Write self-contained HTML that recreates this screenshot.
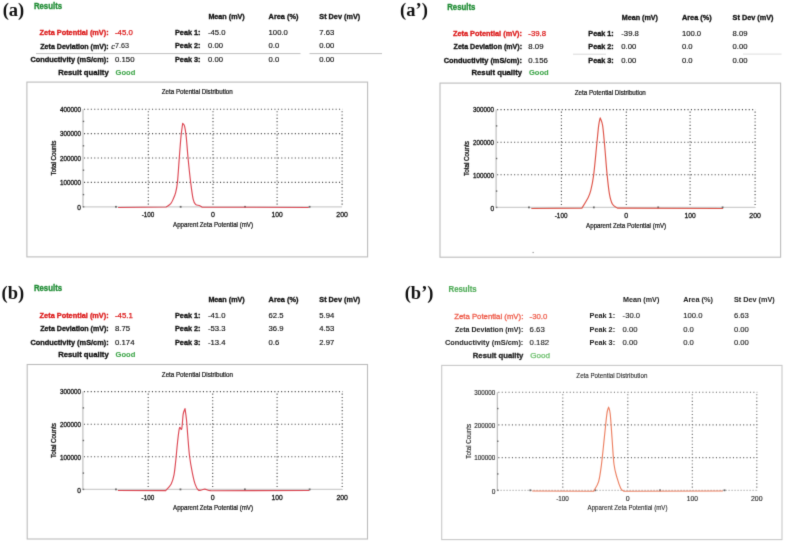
<!DOCTYPE html>
<html><head><meta charset="utf-8"><title>Zeta Potential Results</title>
<style>html,body{margin:0;padding:0;background:#fff;}body{width:785px;height:543px;overflow:hidden;}svg{display:block;}</style>
</head><body>
<svg width="785" height="543" viewBox="0 0 785 543">
<defs><filter id="soft" x="0" y="0" width="785" height="543" filterUnits="userSpaceOnUse" color-interpolation-filters="sRGB"><feConvolveMatrix order="3" kernelMatrix="1 7 1 7 49 7 1 7 1" edgeMode="duplicate"/></filter></defs>
<g filter="url(#soft)">
<rect x="0" y="0" width="785" height="543" fill="#fff"/>
<text x="2.7" y="15.9" font-size="18.5" font-weight="bold" fill="#111" text-anchor="start" font-family="'Liberation Serif', 'Times New Roman', serif">(a)</text>
<text x="33.9" y="8.8" font-size="8.6" font-weight="bold" fill="#1f8c34" text-anchor="start" font-family="'Liberation Sans', Arial, sans-serif" textLength="28.2" lengthAdjust="spacingAndGlyphs" stroke="#1f8c34" stroke-width="0.32">Results</text>
<text x="208.4" y="19.1" font-size="7.2" font-weight="bold" fill="#111" text-anchor="start" font-family="'Liberation Sans', Arial, sans-serif" textLength="36.3" lengthAdjust="spacingAndGlyphs" stroke="#111" stroke-width="0.32">Mean (mV)</text>
<text x="268.6" y="19.1" font-size="7.2" font-weight="bold" fill="#111" text-anchor="start" font-family="'Liberation Sans', Arial, sans-serif" textLength="29.8" lengthAdjust="spacingAndGlyphs" stroke="#111" stroke-width="0.32">Area (%)</text>
<text x="319.3" y="19.1" font-size="7.2" font-weight="bold" fill="#111" text-anchor="start" font-family="'Liberation Sans', Arial, sans-serif" textLength="40.9" lengthAdjust="spacingAndGlyphs" stroke="#111" stroke-width="0.32">St Dev (mV)</text>
<text x="108.7" y="35.3" font-size="7.4" font-weight="bold" fill="#dc1a1a" text-anchor="end" font-family="'Liberation Sans', Arial, sans-serif" textLength="69.1" lengthAdjust="spacingAndGlyphs" stroke="#dc1a1a" stroke-width="0.32">Zeta Potential (mV):</text>
<text x="108.7" y="48.6" font-size="7.4" font-weight="bold" fill="#111" text-anchor="end" font-family="'Liberation Sans', Arial, sans-serif" textLength="68.4" lengthAdjust="spacingAndGlyphs" stroke="#111" stroke-width="0.32">Zeta Deviation (mV):</text>
<text x="108.7" y="61.9" font-size="7.4" font-weight="bold" fill="#111" text-anchor="end" font-family="'Liberation Sans', Arial, sans-serif" textLength="78.3" lengthAdjust="spacingAndGlyphs" stroke="#111" stroke-width="0.32">Conductivity (mS/cm):</text>
<text x="108.7" y="74.5" font-size="7.8" font-weight="bold" fill="#111" text-anchor="end" font-family="'Liberation Sans', Arial, sans-serif" textLength="50.5" lengthAdjust="spacingAndGlyphs" stroke="#111" stroke-width="0.32">Result quality</text>
<text x="115" y="35.4" font-size="7.8" font-weight="normal" fill="#dc1a1a" text-anchor="start" font-family="'Liberation Sans', Arial, sans-serif" stroke="#dc1a1a" stroke-width="0.25">-45.0</text>
<text x="111.3" y="48.6" font-size="8.2" font-style="italic" fill="#2a2a2a" stroke="#2a2a2a" stroke-width="0.2" font-family="'Liberation Serif', 'Times New Roman', serif">c</text>
<text x="115" y="48.4" font-size="7.9" font-weight="normal" fill="#2a2a2a" text-anchor="start" font-family="'Liberation Sans', Arial, sans-serif" textLength="14" lengthAdjust="spacingAndGlyphs" stroke="#2a2a2a" stroke-width="0.15">7.63</text>
<text x="115" y="61.9" font-size="7.8" font-weight="normal" fill="#111" text-anchor="start" font-family="'Liberation Sans', Arial, sans-serif" stroke="#111" stroke-width="0.15">0.150</text>
<text x="115.6" y="74.6" font-size="7.9" font-weight="bold" fill="#3fa64a" text-anchor="start" font-family="'Liberation Sans', Arial, sans-serif" textLength="19.8" lengthAdjust="spacingAndGlyphs" stroke="#3fa64a" stroke-width="0.1">Good</text>
<text x="200.5" y="34.9" font-size="7.4" font-weight="bold" fill="#111" text-anchor="end" font-family="'Liberation Sans', Arial, sans-serif" textLength="25.5" lengthAdjust="spacingAndGlyphs" stroke="#111" stroke-width="0.32">Peak 1:</text>
<text x="208" y="34.9" font-size="7.7" font-weight="normal" fill="#111" text-anchor="start" font-family="'Liberation Sans', Arial, sans-serif" stroke="#111" stroke-width="0.15">-45.0</text>
<text x="268.6" y="34.9" font-size="7.7" font-weight="normal" fill="#111" text-anchor="start" font-family="'Liberation Sans', Arial, sans-serif" stroke="#111" stroke-width="0.15">100.0</text>
<text x="319.3" y="34.9" font-size="7.7" font-weight="normal" fill="#111" text-anchor="start" font-family="'Liberation Sans', Arial, sans-serif" stroke="#111" stroke-width="0.15">7.63</text>
<text x="200.5" y="48.4" font-size="7.4" font-weight="bold" fill="#111" text-anchor="end" font-family="'Liberation Sans', Arial, sans-serif" textLength="25.5" lengthAdjust="spacingAndGlyphs" stroke="#111" stroke-width="0.32">Peak 2:</text>
<text x="208" y="48.4" font-size="7.7" font-weight="normal" fill="#111" text-anchor="start" font-family="'Liberation Sans', Arial, sans-serif" stroke="#111" stroke-width="0.15">0.00</text>
<text x="268.6" y="48.4" font-size="7.7" font-weight="normal" fill="#111" text-anchor="start" font-family="'Liberation Sans', Arial, sans-serif" stroke="#111" stroke-width="0.15">0.0</text>
<text x="319.3" y="48.4" font-size="7.7" font-weight="normal" fill="#111" text-anchor="start" font-family="'Liberation Sans', Arial, sans-serif" stroke="#111" stroke-width="0.15">0.00</text>
<text x="200.5" y="62.1" font-size="7.4" font-weight="bold" fill="#111" text-anchor="end" font-family="'Liberation Sans', Arial, sans-serif" textLength="25.5" lengthAdjust="spacingAndGlyphs" stroke="#111" stroke-width="0.32">Peak 3:</text>
<text x="208" y="62.1" font-size="7.7" font-weight="normal" fill="#111" text-anchor="start" font-family="'Liberation Sans', Arial, sans-serif" stroke="#111" stroke-width="0.15">0.00</text>
<text x="268.6" y="62.1" font-size="7.7" font-weight="normal" fill="#111" text-anchor="start" font-family="'Liberation Sans', Arial, sans-serif" stroke="#111" stroke-width="0.15">0.0</text>
<text x="319.3" y="62.1" font-size="7.7" font-weight="normal" fill="#111" text-anchor="start" font-family="'Liberation Sans', Arial, sans-serif" stroke="#111" stroke-width="0.15">0.00</text>
<line x1="36" y1="53.6" x2="300.5" y2="53.6" stroke="#b8b8b8" stroke-width="0.9"/>
<line x1="309.5" y1="53.6" x2="382" y2="53.6" stroke="#b8b8b8" stroke-width="0.9"/>
<rect x="26.9" y="82.1" width="340.7" height="174.8" fill="none" stroke="#bcbcbc" stroke-width="1.1"/>
<text x="197.25" y="94.2" font-size="6.8" font-weight="normal" fill="#111" text-anchor="middle" font-family="'Liberation Sans', Arial, sans-serif" textLength="71" lengthAdjust="spacingAndGlyphs" stroke="#111" stroke-width="0.21">Zeta Potential Distribution</text>
<line x1="84" y1="182.4" x2="342.6" y2="182.4" stroke="#4a4a4a" stroke-width="1.1" stroke-dasharray="1.1 2.3"/>
<line x1="84" y1="158" x2="342.6" y2="158" stroke="#4a4a4a" stroke-width="1.1" stroke-dasharray="1.1 2.3"/>
<line x1="84" y1="133.6" x2="342.6" y2="133.6" stroke="#4a4a4a" stroke-width="1.1" stroke-dasharray="1.1 2.3"/>
<line x1="84" y1="109.2" x2="342.6" y2="109.2" stroke="#4a4a4a" stroke-width="1.1" stroke-dasharray="1.1 2.3"/>
<line x1="148.3" y1="111.2" x2="148.3" y2="206.8" stroke="#4a4a4a" stroke-width="1.1" stroke-dasharray="1.1 2.2"/>
<line x1="213" y1="111.2" x2="213" y2="206.8" stroke="#4a4a4a" stroke-width="1.1" stroke-dasharray="1.1 2.2"/>
<line x1="277.1" y1="111.2" x2="277.1" y2="206.8" stroke="#4a4a4a" stroke-width="1.1" stroke-dasharray="1.1 2.2"/>
<line x1="342.1" y1="111.2" x2="342.1" y2="206.8" stroke="#4a4a4a" stroke-width="1.1" stroke-dasharray="1.1 2.2"/>
<line x1="83" y1="109.2" x2="83" y2="207.3" stroke="#b8b8b8" stroke-width="1.1"/>
<line x1="83" y1="206.8" x2="342.1" y2="206.8" stroke="#cdcdcd" stroke-width="1.3"/>
<rect x="82.8" y="206.05" width="1.5" height="1.5" fill="#777"/>
<rect x="82.8" y="193.9" width="1.4" height="1.4" fill="#666"/>
<rect x="82.8" y="169.5" width="1.4" height="1.4" fill="#666"/>
<rect x="82.8" y="145.1" width="1.4" height="1.4" fill="#666"/>
<rect x="82.8" y="120.7" width="1.4" height="1.4" fill="#666"/>
<rect x="115.05" y="205.9" width="1.8" height="1.8" fill="#666"/>
<rect x="179.75" y="205.9" width="1.8" height="1.8" fill="#666"/>
<rect x="244.15" y="205.9" width="1.8" height="1.8" fill="#666"/>
<rect x="308.7" y="205.9" width="1.8" height="1.8" fill="#666"/>
<text x="81" y="210" font-size="6.6" font-weight="normal" fill="#111" text-anchor="end" font-family="'Liberation Sans', Arial, sans-serif" stroke="#111" stroke-width="0.29">0</text>
<text x="81" y="185.2" font-size="6.6" font-weight="normal" fill="#111" text-anchor="end" font-family="'Liberation Sans', Arial, sans-serif" textLength="21" lengthAdjust="spacingAndGlyphs" stroke="#111" stroke-width="0.29">100000</text>
<text x="81" y="160.8" font-size="6.6" font-weight="normal" fill="#111" text-anchor="end" font-family="'Liberation Sans', Arial, sans-serif" textLength="21" lengthAdjust="spacingAndGlyphs" stroke="#111" stroke-width="0.29">200000</text>
<text x="81" y="136.4" font-size="6.6" font-weight="normal" fill="#111" text-anchor="end" font-family="'Liberation Sans', Arial, sans-serif" textLength="21" lengthAdjust="spacingAndGlyphs" stroke="#111" stroke-width="0.29">300000</text>
<text x="81" y="112" font-size="6.6" font-weight="normal" fill="#111" text-anchor="end" font-family="'Liberation Sans', Arial, sans-serif" textLength="21" lengthAdjust="spacingAndGlyphs" stroke="#111" stroke-width="0.29">400000</text>
<text x="148" y="217.4" font-size="6.6" font-weight="normal" fill="#111" text-anchor="middle" font-family="'Liberation Sans', Arial, sans-serif" textLength="12.7" lengthAdjust="spacingAndGlyphs" stroke="#111" stroke-width="0.26">-100</text>
<text x="213" y="217.4" font-size="6.6" font-weight="normal" fill="#111" text-anchor="middle" font-family="'Liberation Sans', Arial, sans-serif" textLength="3.9" lengthAdjust="spacingAndGlyphs" stroke="#111" stroke-width="0.26">0</text>
<text x="277.1" y="217.4" font-size="6.6" font-weight="normal" fill="#111" text-anchor="middle" font-family="'Liberation Sans', Arial, sans-serif" textLength="11.2" lengthAdjust="spacingAndGlyphs" stroke="#111" stroke-width="0.26">100</text>
<text x="342.1" y="217.4" font-size="6.6" font-weight="normal" fill="#111" text-anchor="middle" font-family="'Liberation Sans', Arial, sans-serif" textLength="11.6" lengthAdjust="spacingAndGlyphs" stroke="#111" stroke-width="0.26">200</text>
<text x="213.05" y="227.3" font-size="6.8" font-weight="normal" fill="#111" text-anchor="middle" font-family="'Liberation Sans', Arial, sans-serif" textLength="80" lengthAdjust="spacingAndGlyphs" stroke="#111" stroke-width="0.21">Apparent Zeta Potential (mV)</text>
<text x="0" y="0" font-size="6.3" font-weight="normal" stroke="#111" stroke-width="0.29" fill="#111" text-anchor="middle" font-family="'Liberation Sans', Arial, sans-serif" textLength="35" lengthAdjust="spacingAndGlyphs" transform="translate(56.3 158) rotate(-90)">Total Counts</text>
<path d="M118.1,207.45 L166.1,207.05 C166.83,206.53 169.33,205.23 170.5,203.95 C171.67,202.67 172.23,201.28 173.1,199.35 C173.97,197.42 174.97,195.27 175.7,192.35 C176.43,189.43 176.92,187.38 177.5,181.85 C178.08,176.32 178.62,166.72 179.2,159.15 C179.78,151.58 180.42,142.42 181,136.45 C181.58,130.48 182.19,127.28 182.7,123.35 C183.24,124.13 183.92,123.77 184.5,125.95 C185.08,128.13 185.62,131.2 186.2,136.45 C186.78,141.7 187.27,149.88 188,157.45 C188.73,165.02 189.73,174.87 190.6,181.85 C191.47,188.83 192.33,195.55 193.2,199.35 C194.07,203.15 194.78,203.63 195.8,204.65 C196.82,205.67 198.27,205.05 199.3,205.45 C200.33,205.85 201.55,206.78 202,207.05 L308.8,207.45" fill="none" stroke="#dc4652" stroke-width="1.15" stroke-linejoin="round" stroke-linecap="butt"/>
<text x="400.1" y="16.1" font-size="18.5" font-weight="bold" fill="#111" text-anchor="start" font-family="'Liberation Serif', 'Times New Roman', serif">(a’)</text>
<text x="447.2" y="9.6" font-size="8.6" font-weight="bold" fill="#1f8c34" text-anchor="start" font-family="'Liberation Sans', Arial, sans-serif" textLength="28.2" lengthAdjust="spacingAndGlyphs" stroke="#1f8c34" stroke-width="0.32">Results</text>
<text x="621.7" y="19.9" font-size="7.2" font-weight="bold" fill="#111" text-anchor="start" font-family="'Liberation Sans', Arial, sans-serif" textLength="36.3" lengthAdjust="spacingAndGlyphs" stroke="#111" stroke-width="0.32">Mean (mV)</text>
<text x="681.9" y="19.9" font-size="7.2" font-weight="bold" fill="#111" text-anchor="start" font-family="'Liberation Sans', Arial, sans-serif" textLength="29.8" lengthAdjust="spacingAndGlyphs" stroke="#111" stroke-width="0.32">Area (%)</text>
<text x="732.6" y="19.9" font-size="7.2" font-weight="bold" fill="#111" text-anchor="start" font-family="'Liberation Sans', Arial, sans-serif" textLength="40.9" lengthAdjust="spacingAndGlyphs" stroke="#111" stroke-width="0.32">St Dev (mV)</text>
<text x="522" y="36.1" font-size="7.4" font-weight="bold" fill="#dc1a1a" text-anchor="end" font-family="'Liberation Sans', Arial, sans-serif" textLength="69.1" lengthAdjust="spacingAndGlyphs" stroke="#dc1a1a" stroke-width="0.32">Zeta Potential (mV):</text>
<text x="522" y="49.4" font-size="7.4" font-weight="bold" fill="#111" text-anchor="end" font-family="'Liberation Sans', Arial, sans-serif" textLength="68.4" lengthAdjust="spacingAndGlyphs" stroke="#111" stroke-width="0.32">Zeta Deviation (mV):</text>
<text x="522" y="62.7" font-size="7.4" font-weight="bold" fill="#111" text-anchor="end" font-family="'Liberation Sans', Arial, sans-serif" textLength="78.3" lengthAdjust="spacingAndGlyphs" stroke="#111" stroke-width="0.32">Conductivity (mS/cm):</text>
<text x="522" y="75.3" font-size="7.8" font-weight="bold" fill="#111" text-anchor="end" font-family="'Liberation Sans', Arial, sans-serif" textLength="50.5" lengthAdjust="spacingAndGlyphs" stroke="#111" stroke-width="0.32">Result quality</text>
<text x="528.3" y="36.2" font-size="7.8" font-weight="normal" fill="#dc1a1a" text-anchor="start" font-family="'Liberation Sans', Arial, sans-serif" stroke="#dc1a1a" stroke-width="0.25">-39.8</text>
<text x="528.3" y="49.4" font-size="7.8" font-weight="normal" fill="#111" text-anchor="start" font-family="'Liberation Sans', Arial, sans-serif" stroke="#111" stroke-width="0.15">8.09</text>
<text x="528.3" y="62.7" font-size="7.8" font-weight="normal" fill="#111" text-anchor="start" font-family="'Liberation Sans', Arial, sans-serif" stroke="#111" stroke-width="0.15">0.156</text>
<text x="528.9" y="75.4" font-size="7.9" font-weight="bold" fill="#3fa64a" text-anchor="start" font-family="'Liberation Sans', Arial, sans-serif" textLength="19.8" lengthAdjust="spacingAndGlyphs" stroke="#3fa64a" stroke-width="0.1">Good</text>
<text x="613.8" y="35.7" font-size="7.4" font-weight="bold" fill="#111" text-anchor="end" font-family="'Liberation Sans', Arial, sans-serif" textLength="25.5" lengthAdjust="spacingAndGlyphs" stroke="#111" stroke-width="0.32">Peak 1:</text>
<text x="621.3" y="35.7" font-size="7.7" font-weight="normal" fill="#111" text-anchor="start" font-family="'Liberation Sans', Arial, sans-serif" stroke="#111" stroke-width="0.15">-39.8</text>
<text x="681.9" y="35.7" font-size="7.7" font-weight="normal" fill="#111" text-anchor="start" font-family="'Liberation Sans', Arial, sans-serif" stroke="#111" stroke-width="0.15">100.0</text>
<text x="732.6" y="35.7" font-size="7.7" font-weight="normal" fill="#111" text-anchor="start" font-family="'Liberation Sans', Arial, sans-serif" stroke="#111" stroke-width="0.15">8.09</text>
<text x="613.8" y="49.2" font-size="7.4" font-weight="bold" fill="#111" text-anchor="end" font-family="'Liberation Sans', Arial, sans-serif" textLength="25.5" lengthAdjust="spacingAndGlyphs" stroke="#111" stroke-width="0.32">Peak 2:</text>
<text x="621.3" y="49.2" font-size="7.7" font-weight="normal" fill="#111" text-anchor="start" font-family="'Liberation Sans', Arial, sans-serif" stroke="#111" stroke-width="0.15">0.00</text>
<text x="681.9" y="49.2" font-size="7.7" font-weight="normal" fill="#111" text-anchor="start" font-family="'Liberation Sans', Arial, sans-serif" stroke="#111" stroke-width="0.15">0.0</text>
<text x="732.6" y="49.2" font-size="7.7" font-weight="normal" fill="#111" text-anchor="start" font-family="'Liberation Sans', Arial, sans-serif" stroke="#111" stroke-width="0.15">0.00</text>
<text x="613.8" y="62.9" font-size="7.4" font-weight="bold" fill="#111" text-anchor="end" font-family="'Liberation Sans', Arial, sans-serif" textLength="25.5" lengthAdjust="spacingAndGlyphs" stroke="#111" stroke-width="0.32">Peak 3:</text>
<text x="621.3" y="62.9" font-size="7.7" font-weight="normal" fill="#111" text-anchor="start" font-family="'Liberation Sans', Arial, sans-serif" stroke="#111" stroke-width="0.15">0.00</text>
<text x="681.9" y="62.9" font-size="7.7" font-weight="normal" fill="#111" text-anchor="start" font-family="'Liberation Sans', Arial, sans-serif" stroke="#111" stroke-width="0.15">0.0</text>
<text x="732.6" y="62.9" font-size="7.7" font-weight="normal" fill="#111" text-anchor="start" font-family="'Liberation Sans', Arial, sans-serif" stroke="#111" stroke-width="0.15">0.00</text>
<line x1="573" y1="54.2" x2="606" y2="54.2" stroke="#d0d0d0" stroke-width="0.8"/>
<line x1="743" y1="54.1" x2="781.5" y2="54.1" stroke="#d4d4d4" stroke-width="0.8"/>
<rect x="440" y="83.1" width="340.6" height="174.1" fill="none" stroke="#bcbcbc" stroke-width="1.1"/>
<text x="610.3" y="95.2" font-size="6.8" font-weight="normal" fill="#111" text-anchor="middle" font-family="'Liberation Sans', Arial, sans-serif" textLength="71" lengthAdjust="spacingAndGlyphs" stroke="#111" stroke-width="0.21">Zeta Potential Distribution</text>
<line x1="497.1" y1="174.8" x2="755.6" y2="174.8" stroke="#4a4a4a" stroke-width="1.1" stroke-dasharray="1.1 2.3"/>
<line x1="497.1" y1="142.2" x2="755.6" y2="142.2" stroke="#4a4a4a" stroke-width="1.1" stroke-dasharray="1.1 2.3"/>
<line x1="497.1" y1="109.6" x2="755.6" y2="109.6" stroke="#4a4a4a" stroke-width="1.1" stroke-dasharray="1.1 2.3"/>
<line x1="561.4" y1="111.6" x2="561.4" y2="207.4" stroke="#4a4a4a" stroke-width="1.1" stroke-dasharray="1.1 2.2"/>
<line x1="626.3" y1="111.6" x2="626.3" y2="207.4" stroke="#4a4a4a" stroke-width="1.1" stroke-dasharray="1.1 2.2"/>
<line x1="690.1" y1="111.6" x2="690.1" y2="207.4" stroke="#4a4a4a" stroke-width="1.1" stroke-dasharray="1.1 2.2"/>
<line x1="755.1" y1="111.6" x2="755.1" y2="207.4" stroke="#4a4a4a" stroke-width="1.1" stroke-dasharray="1.1 2.2"/>
<line x1="496.1" y1="109.6" x2="496.1" y2="207.9" stroke="#b8b8b8" stroke-width="1.1"/>
<line x1="496.1" y1="207.4" x2="755.1" y2="207.4" stroke="#cdcdcd" stroke-width="1.3"/>
<rect x="495.9" y="206.65" width="1.5" height="1.5" fill="#777"/>
<rect x="495.9" y="190.4" width="1.4" height="1.4" fill="#666"/>
<rect x="495.9" y="157.8" width="1.4" height="1.4" fill="#666"/>
<rect x="495.9" y="125.2" width="1.4" height="1.4" fill="#666"/>
<rect x="528.05" y="206.5" width="1.8" height="1.8" fill="#666"/>
<rect x="592.95" y="206.5" width="1.8" height="1.8" fill="#666"/>
<rect x="657.3" y="206.5" width="1.8" height="1.8" fill="#666"/>
<rect x="721.7" y="206.5" width="1.8" height="1.8" fill="#666"/>
<text x="494.1" y="210.6" font-size="6.6" font-weight="normal" fill="#111" text-anchor="end" font-family="'Liberation Sans', Arial, sans-serif" stroke="#111" stroke-width="0.29">0</text>
<text x="494.1" y="177.6" font-size="6.6" font-weight="normal" fill="#111" text-anchor="end" font-family="'Liberation Sans', Arial, sans-serif" textLength="21" lengthAdjust="spacingAndGlyphs" stroke="#111" stroke-width="0.29">100000</text>
<text x="494.1" y="145" font-size="6.6" font-weight="normal" fill="#111" text-anchor="end" font-family="'Liberation Sans', Arial, sans-serif" textLength="21" lengthAdjust="spacingAndGlyphs" stroke="#111" stroke-width="0.29">200000</text>
<text x="494.1" y="112.4" font-size="6.6" font-weight="normal" fill="#111" text-anchor="end" font-family="'Liberation Sans', Arial, sans-serif" textLength="21" lengthAdjust="spacingAndGlyphs" stroke="#111" stroke-width="0.29">300000</text>
<text x="561.1" y="218" font-size="6.6" font-weight="normal" fill="#111" text-anchor="middle" font-family="'Liberation Sans', Arial, sans-serif" textLength="12.7" lengthAdjust="spacingAndGlyphs" stroke="#111" stroke-width="0.26">-100</text>
<text x="626.3" y="218" font-size="6.6" font-weight="normal" fill="#111" text-anchor="middle" font-family="'Liberation Sans', Arial, sans-serif" textLength="3.9" lengthAdjust="spacingAndGlyphs" stroke="#111" stroke-width="0.26">0</text>
<text x="690.1" y="218" font-size="6.6" font-weight="normal" fill="#111" text-anchor="middle" font-family="'Liberation Sans', Arial, sans-serif" textLength="11.2" lengthAdjust="spacingAndGlyphs" stroke="#111" stroke-width="0.26">100</text>
<text x="755.1" y="218" font-size="6.6" font-weight="normal" fill="#111" text-anchor="middle" font-family="'Liberation Sans', Arial, sans-serif" textLength="11.6" lengthAdjust="spacingAndGlyphs" stroke="#111" stroke-width="0.26">200</text>
<text x="626.1" y="227.9" font-size="6.8" font-weight="normal" fill="#111" text-anchor="middle" font-family="'Liberation Sans', Arial, sans-serif" textLength="80" lengthAdjust="spacingAndGlyphs" stroke="#111" stroke-width="0.21">Apparent Zeta Potential (mV)</text>
<text x="0" y="0" font-size="6.3" font-weight="normal" stroke="#111" stroke-width="0.29" fill="#111" text-anchor="middle" font-family="'Liberation Sans', Arial, sans-serif" textLength="35" lengthAdjust="spacingAndGlyphs" transform="translate(469.4 158.5) rotate(-90)">Total Counts</text>
<path d="M531.3,208.45 L581.9,208.15 C582.88,206.5 586.32,201.2 587.8,198.25 C589.28,195.3 589.82,194.38 590.8,190.45 C591.78,186.52 592.72,182.22 593.7,174.65 C594.68,167.08 595.87,153.27 596.7,145.05 C597.53,136.83 598.12,129.88 598.7,125.35 C599.28,120.82 599.75,120.1 600.2,117.85 C600.92,120.1 601.87,120.82 602.6,125.35 C603.33,129.88 603.85,136.83 604.6,145.05 C605.35,153.27 606.28,166.43 607.1,174.65 C607.92,182.87 608.6,189.42 609.5,194.35 C610.4,199.28 611.18,201.95 612.5,204.25 C613.82,206.55 616.58,207.5 617.4,208.15 L723,208.45" fill="none" stroke="#de5448" stroke-width="1.15" stroke-linejoin="round" stroke-linecap="butt"/>
<rect x="532.5" y="251.9" width="1.3" height="1.2" fill="#999"/>
<text x="1.5" y="298.5" font-size="18.5" font-weight="bold" fill="#111" text-anchor="start" font-family="'Liberation Serif', 'Times New Roman', serif">(b)</text>
<text x="33.9" y="291.4" font-size="8.6" font-weight="bold" fill="#1f8c34" text-anchor="start" font-family="'Liberation Sans', Arial, sans-serif" textLength="28.2" lengthAdjust="spacingAndGlyphs" stroke="#1f8c34" stroke-width="0.32">Results</text>
<text x="208.4" y="301.7" font-size="7.2" font-weight="bold" fill="#111" text-anchor="start" font-family="'Liberation Sans', Arial, sans-serif" textLength="36.3" lengthAdjust="spacingAndGlyphs" stroke="#111" stroke-width="0.32">Mean (mV)</text>
<text x="268.6" y="301.7" font-size="7.2" font-weight="bold" fill="#111" text-anchor="start" font-family="'Liberation Sans', Arial, sans-serif" textLength="29.8" lengthAdjust="spacingAndGlyphs" stroke="#111" stroke-width="0.32">Area (%)</text>
<text x="319.3" y="301.7" font-size="7.2" font-weight="bold" fill="#111" text-anchor="start" font-family="'Liberation Sans', Arial, sans-serif" textLength="40.9" lengthAdjust="spacingAndGlyphs" stroke="#111" stroke-width="0.32">St Dev (mV)</text>
<text x="108.7" y="317.9" font-size="7.4" font-weight="bold" fill="#dc1a1a" text-anchor="end" font-family="'Liberation Sans', Arial, sans-serif" textLength="69.1" lengthAdjust="spacingAndGlyphs" stroke="#dc1a1a" stroke-width="0.32">Zeta Potential (mV):</text>
<text x="108.7" y="331.2" font-size="7.4" font-weight="bold" fill="#111" text-anchor="end" font-family="'Liberation Sans', Arial, sans-serif" textLength="68.4" lengthAdjust="spacingAndGlyphs" stroke="#111" stroke-width="0.32">Zeta Deviation (mV):</text>
<text x="108.7" y="344.5" font-size="7.4" font-weight="bold" fill="#111" text-anchor="end" font-family="'Liberation Sans', Arial, sans-serif" textLength="78.3" lengthAdjust="spacingAndGlyphs" stroke="#111" stroke-width="0.32">Conductivity (mS/cm):</text>
<text x="108.7" y="357.1" font-size="7.8" font-weight="bold" fill="#111" text-anchor="end" font-family="'Liberation Sans', Arial, sans-serif" textLength="50.5" lengthAdjust="spacingAndGlyphs" stroke="#111" stroke-width="0.32">Result quality</text>
<text x="115" y="318" font-size="7.8" font-weight="normal" fill="#dc1a1a" text-anchor="start" font-family="'Liberation Sans', Arial, sans-serif" stroke="#dc1a1a" stroke-width="0.25">-45.1</text>
<text x="115" y="331.2" font-size="7.8" font-weight="normal" fill="#111" text-anchor="start" font-family="'Liberation Sans', Arial, sans-serif" stroke="#111" stroke-width="0.15">8.75</text>
<text x="115" y="344.5" font-size="7.8" font-weight="normal" fill="#111" text-anchor="start" font-family="'Liberation Sans', Arial, sans-serif" stroke="#111" stroke-width="0.15">0.174</text>
<text x="115.6" y="357.2" font-size="7.9" font-weight="bold" fill="#3fa64a" text-anchor="start" font-family="'Liberation Sans', Arial, sans-serif" textLength="19.8" lengthAdjust="spacingAndGlyphs" stroke="#3fa64a" stroke-width="0.1">Good</text>
<text x="200.5" y="317.5" font-size="7.4" font-weight="bold" fill="#111" text-anchor="end" font-family="'Liberation Sans', Arial, sans-serif" textLength="25.5" lengthAdjust="spacingAndGlyphs" stroke="#111" stroke-width="0.32">Peak 1:</text>
<text x="208" y="317.5" font-size="7.7" font-weight="normal" fill="#111" text-anchor="start" font-family="'Liberation Sans', Arial, sans-serif" stroke="#111" stroke-width="0.15">-41.0</text>
<text x="268.6" y="317.5" font-size="7.7" font-weight="normal" fill="#111" text-anchor="start" font-family="'Liberation Sans', Arial, sans-serif" stroke="#111" stroke-width="0.15">62.5</text>
<text x="319.3" y="317.5" font-size="7.7" font-weight="normal" fill="#111" text-anchor="start" font-family="'Liberation Sans', Arial, sans-serif" stroke="#111" stroke-width="0.15">5.94</text>
<text x="200.5" y="331" font-size="7.4" font-weight="bold" fill="#111" text-anchor="end" font-family="'Liberation Sans', Arial, sans-serif" textLength="25.5" lengthAdjust="spacingAndGlyphs" stroke="#111" stroke-width="0.32">Peak 2:</text>
<text x="208" y="331" font-size="7.7" font-weight="normal" fill="#111" text-anchor="start" font-family="'Liberation Sans', Arial, sans-serif" stroke="#111" stroke-width="0.15">-53.3</text>
<text x="268.6" y="331" font-size="7.7" font-weight="normal" fill="#111" text-anchor="start" font-family="'Liberation Sans', Arial, sans-serif" stroke="#111" stroke-width="0.15">36.9</text>
<text x="319.3" y="331" font-size="7.7" font-weight="normal" fill="#111" text-anchor="start" font-family="'Liberation Sans', Arial, sans-serif" stroke="#111" stroke-width="0.15">4.53</text>
<text x="200.5" y="344.7" font-size="7.4" font-weight="bold" fill="#111" text-anchor="end" font-family="'Liberation Sans', Arial, sans-serif" textLength="25.5" lengthAdjust="spacingAndGlyphs" stroke="#111" stroke-width="0.32">Peak 3:</text>
<text x="208" y="344.7" font-size="7.7" font-weight="normal" fill="#111" text-anchor="start" font-family="'Liberation Sans', Arial, sans-serif" stroke="#111" stroke-width="0.15">-13.4</text>
<text x="268.6" y="344.7" font-size="7.7" font-weight="normal" fill="#111" text-anchor="start" font-family="'Liberation Sans', Arial, sans-serif" stroke="#111" stroke-width="0.15">0.6</text>
<text x="319.3" y="344.7" font-size="7.7" font-weight="normal" fill="#111" text-anchor="start" font-family="'Liberation Sans', Arial, sans-serif" stroke="#111" stroke-width="0.15">2.97</text>
<rect x="27.2" y="364.5" width="340.3" height="174.5" fill="none" stroke="#bcbcbc" stroke-width="1.1"/>
<text x="197.35" y="376.6" font-size="6.8" font-weight="normal" fill="#111" text-anchor="middle" font-family="'Liberation Sans', Arial, sans-serif" textLength="71" lengthAdjust="spacingAndGlyphs" stroke="#111" stroke-width="0.21">Zeta Potential Distribution</text>
<line x1="83.9" y1="456.8" x2="342.7" y2="456.8" stroke="#4a4a4a" stroke-width="1.1" stroke-dasharray="1.1 2.3"/>
<line x1="83.9" y1="424.2" x2="342.7" y2="424.2" stroke="#4a4a4a" stroke-width="1.1" stroke-dasharray="1.1 2.3"/>
<line x1="83.9" y1="391.6" x2="342.7" y2="391.6" stroke="#4a4a4a" stroke-width="1.1" stroke-dasharray="1.1 2.3"/>
<line x1="148.2" y1="393.6" x2="148.2" y2="489.4" stroke="#4a4a4a" stroke-width="1.1" stroke-dasharray="1.1 2.2"/>
<line x1="212.7" y1="393.6" x2="212.7" y2="489.4" stroke="#4a4a4a" stroke-width="1.1" stroke-dasharray="1.1 2.2"/>
<line x1="277.1" y1="393.6" x2="277.1" y2="489.4" stroke="#4a4a4a" stroke-width="1.1" stroke-dasharray="1.1 2.2"/>
<line x1="342.2" y1="393.6" x2="342.2" y2="489.4" stroke="#4a4a4a" stroke-width="1.1" stroke-dasharray="1.1 2.2"/>
<line x1="82.9" y1="391.6" x2="82.9" y2="489.9" stroke="#b8b8b8" stroke-width="1.1"/>
<line x1="82.9" y1="489.4" x2="342.2" y2="489.4" stroke="#cdcdcd" stroke-width="1.3"/>
<rect x="82.7" y="488.65" width="1.5" height="1.5" fill="#777"/>
<rect x="82.7" y="472.4" width="1.4" height="1.4" fill="#666"/>
<rect x="82.7" y="439.8" width="1.4" height="1.4" fill="#666"/>
<rect x="82.7" y="407.2" width="1.4" height="1.4" fill="#666"/>
<rect x="115.05" y="488.5" width="1.8" height="1.8" fill="#666"/>
<rect x="179.55" y="488.5" width="1.8" height="1.8" fill="#666"/>
<rect x="244" y="488.5" width="1.8" height="1.8" fill="#666"/>
<rect x="308.75" y="488.5" width="1.8" height="1.8" fill="#666"/>
<text x="80.9" y="492.6" font-size="6.6" font-weight="normal" fill="#111" text-anchor="end" font-family="'Liberation Sans', Arial, sans-serif" stroke="#111" stroke-width="0.29">0</text>
<text x="80.9" y="459.6" font-size="6.6" font-weight="normal" fill="#111" text-anchor="end" font-family="'Liberation Sans', Arial, sans-serif" textLength="21" lengthAdjust="spacingAndGlyphs" stroke="#111" stroke-width="0.29">100000</text>
<text x="80.9" y="427" font-size="6.6" font-weight="normal" fill="#111" text-anchor="end" font-family="'Liberation Sans', Arial, sans-serif" textLength="21" lengthAdjust="spacingAndGlyphs" stroke="#111" stroke-width="0.29">200000</text>
<text x="80.9" y="394.4" font-size="6.6" font-weight="normal" fill="#111" text-anchor="end" font-family="'Liberation Sans', Arial, sans-serif" textLength="21" lengthAdjust="spacingAndGlyphs" stroke="#111" stroke-width="0.29">300000</text>
<text x="147.9" y="500" font-size="6.6" font-weight="normal" fill="#111" text-anchor="middle" font-family="'Liberation Sans', Arial, sans-serif" textLength="12.7" lengthAdjust="spacingAndGlyphs" stroke="#111" stroke-width="0.26">-100</text>
<text x="212.7" y="500" font-size="6.6" font-weight="normal" fill="#111" text-anchor="middle" font-family="'Liberation Sans', Arial, sans-serif" textLength="3.9" lengthAdjust="spacingAndGlyphs" stroke="#111" stroke-width="0.26">0</text>
<text x="277.1" y="500" font-size="6.6" font-weight="normal" fill="#111" text-anchor="middle" font-family="'Liberation Sans', Arial, sans-serif" textLength="11.2" lengthAdjust="spacingAndGlyphs" stroke="#111" stroke-width="0.26">100</text>
<text x="342.2" y="500" font-size="6.6" font-weight="normal" fill="#111" text-anchor="middle" font-family="'Liberation Sans', Arial, sans-serif" textLength="11.6" lengthAdjust="spacingAndGlyphs" stroke="#111" stroke-width="0.26">200</text>
<text x="213.05" y="509.9" font-size="6.8" font-weight="normal" fill="#111" text-anchor="middle" font-family="'Liberation Sans', Arial, sans-serif" textLength="80" lengthAdjust="spacingAndGlyphs" stroke="#111" stroke-width="0.21">Apparent Zeta Potential (mV)</text>
<text x="0" y="0" font-size="6.3" font-weight="normal" stroke="#111" stroke-width="0.29" fill="#111" text-anchor="middle" font-family="'Liberation Sans', Arial, sans-serif" textLength="35" lengthAdjust="spacingAndGlyphs" transform="translate(56.2 440.5) rotate(-90)">Total Counts</text>
<path d="M117.8,490.5 L165.7,490.6 C166.62,489.52 169.82,486.72 171.2,484.1 C172.58,481.48 173.23,478.88 174,474.9 C174.77,470.92 175.2,465.72 175.8,460.2 C176.4,454.68 176.98,447.18 177.6,441.8 C178.22,436.42 178.82,430.05 179.5,427.9 C180.18,425.75 181.08,431.2 181.7,428.9 C182.32,426.6 182.65,417.48 183.2,414.1 C183.75,410.72 184.46,410.25 185,408.6 C185.45,411.93 186.03,415.1 186.5,419.7 C186.97,424.3 187.28,430.07 187.8,436.2 C188.32,442.33 188.83,450.35 189.6,456.5 C190.37,462.65 191.48,468.5 192.4,473.1 C193.32,477.7 194.12,481.28 195.1,484.1 C196.08,486.92 197.22,489.02 198.3,490 C199.38,490.98 200.5,490.15 201.6,490 C202.7,489.85 203.83,489.07 204.9,489.1 C205.97,489.13 207.02,489.93 208,490.2 C208.98,490.47 210.33,490.62 210.8,490.7 L309.4,490.5" fill="none" stroke="#dc4652" stroke-width="1.15" stroke-linejoin="round" stroke-linecap="butt"/>
<text x="404.7" y="299.1" font-size="18.5" font-weight="bold" fill="#111" text-anchor="start" font-family="'Liberation Serif', 'Times New Roman', serif">(b’)</text>
<text x="448.5" y="292" font-size="8.6" font-weight="bold" fill="#52ad5a" text-anchor="start" font-family="'Liberation Sans', Arial, sans-serif" textLength="28.2" lengthAdjust="spacingAndGlyphs" stroke="#52ad5a" stroke-width="0.18">Results</text>
<text x="623" y="302.3" font-size="7.2" font-weight="bold" fill="#262626" text-anchor="start" font-family="'Liberation Sans', Arial, sans-serif" textLength="36.3" lengthAdjust="spacingAndGlyphs" stroke="#262626" stroke-width="0.05">Mean (mV)</text>
<text x="683.2" y="302.3" font-size="7.2" font-weight="bold" fill="#262626" text-anchor="start" font-family="'Liberation Sans', Arial, sans-serif" textLength="29.8" lengthAdjust="spacingAndGlyphs" stroke="#262626" stroke-width="0.05">Area (%)</text>
<text x="733.9" y="302.3" font-size="7.2" font-weight="bold" fill="#262626" text-anchor="start" font-family="'Liberation Sans', Arial, sans-serif" textLength="40.9" lengthAdjust="spacingAndGlyphs" stroke="#262626" stroke-width="0.05">St Dev (mV)</text>
<text x="523.3" y="318.5" font-size="7.4" font-weight="normal" fill="#ee5a48" text-anchor="end" font-family="'Liberation Sans', Arial, sans-serif" textLength="69.1" lengthAdjust="spacingAndGlyphs" stroke="#ee5a48" stroke-width="0.28">Zeta Potential (mV):</text>
<text x="523.3" y="331.8" font-size="7.4" font-weight="bold" fill="#262626" text-anchor="end" font-family="'Liberation Sans', Arial, sans-serif" textLength="68.4" lengthAdjust="spacingAndGlyphs" stroke="#262626" stroke-width="0.05">Zeta Deviation (mV):</text>
<text x="523.3" y="345.1" font-size="7.4" font-weight="bold" fill="#262626" text-anchor="end" font-family="'Liberation Sans', Arial, sans-serif" textLength="78.3" lengthAdjust="spacingAndGlyphs" stroke="#262626" stroke-width="0.05">Conductivity (mS/cm):</text>
<text x="523.3" y="357.7" font-size="7.8" font-weight="bold" fill="#262626" text-anchor="end" font-family="'Liberation Sans', Arial, sans-serif" textLength="50.5" lengthAdjust="spacingAndGlyphs" stroke="#262626" stroke-width="0.32">Result quality</text>
<text x="529.6" y="318.6" font-size="7.8" font-weight="normal" fill="#ee5a48" text-anchor="start" font-family="'Liberation Sans', Arial, sans-serif" stroke="#ee5a48" stroke-width="0.25">-30.0</text>
<text x="529.6" y="331.8" font-size="7.8" font-weight="normal" fill="#262626" text-anchor="start" font-family="'Liberation Sans', Arial, sans-serif" stroke="#262626" stroke-width="0.15">6.63</text>
<text x="529.6" y="345.1" font-size="7.8" font-weight="normal" fill="#262626" text-anchor="start" font-family="'Liberation Sans', Arial, sans-serif" stroke="#262626" stroke-width="0.15">0.182</text>
<text x="530.2" y="357.8" font-size="7.9" font-weight="normal" fill="#6cbf6c" text-anchor="start" font-family="'Liberation Sans', Arial, sans-serif" textLength="19.8" lengthAdjust="spacingAndGlyphs" stroke="#6cbf6c" stroke-width="0.25">Good</text>
<text x="615.1" y="318.1" font-size="7.4" font-weight="bold" fill="#262626" text-anchor="end" font-family="'Liberation Sans', Arial, sans-serif" textLength="25.5" lengthAdjust="spacingAndGlyphs" stroke="#262626" stroke-width="0.05">Peak 1:</text>
<text x="622.6" y="318.1" font-size="7.7" font-weight="normal" fill="#262626" text-anchor="start" font-family="'Liberation Sans', Arial, sans-serif" stroke="#262626" stroke-width="0.15">-30.0</text>
<text x="683.2" y="318.1" font-size="7.7" font-weight="normal" fill="#262626" text-anchor="start" font-family="'Liberation Sans', Arial, sans-serif" stroke="#262626" stroke-width="0.15">100.0</text>
<text x="733.9" y="318.1" font-size="7.7" font-weight="normal" fill="#262626" text-anchor="start" font-family="'Liberation Sans', Arial, sans-serif" stroke="#262626" stroke-width="0.15">6.63</text>
<text x="615.1" y="331.6" font-size="7.4" font-weight="bold" fill="#262626" text-anchor="end" font-family="'Liberation Sans', Arial, sans-serif" textLength="25.5" lengthAdjust="spacingAndGlyphs" stroke="#262626" stroke-width="0.05">Peak 2:</text>
<text x="622.6" y="331.6" font-size="7.7" font-weight="normal" fill="#262626" text-anchor="start" font-family="'Liberation Sans', Arial, sans-serif" stroke="#262626" stroke-width="0.15">0.00</text>
<text x="683.2" y="331.6" font-size="7.7" font-weight="normal" fill="#262626" text-anchor="start" font-family="'Liberation Sans', Arial, sans-serif" stroke="#262626" stroke-width="0.15">0.0</text>
<text x="733.9" y="331.6" font-size="7.7" font-weight="normal" fill="#262626" text-anchor="start" font-family="'Liberation Sans', Arial, sans-serif" stroke="#262626" stroke-width="0.15">0.00</text>
<text x="615.1" y="345.3" font-size="7.4" font-weight="bold" fill="#262626" text-anchor="end" font-family="'Liberation Sans', Arial, sans-serif" textLength="25.5" lengthAdjust="spacingAndGlyphs" stroke="#262626" stroke-width="0.05">Peak 3:</text>
<text x="622.6" y="345.3" font-size="7.7" font-weight="normal" fill="#262626" text-anchor="start" font-family="'Liberation Sans', Arial, sans-serif" stroke="#262626" stroke-width="0.15">0.00</text>
<text x="683.2" y="345.3" font-size="7.7" font-weight="normal" fill="#262626" text-anchor="start" font-family="'Liberation Sans', Arial, sans-serif" stroke="#262626" stroke-width="0.15">0.0</text>
<text x="733.9" y="345.3" font-size="7.7" font-weight="normal" fill="#262626" text-anchor="start" font-family="'Liberation Sans', Arial, sans-serif" stroke="#262626" stroke-width="0.15">0.00</text>
<rect x="441.7" y="365.4" width="340.3" height="174.2" fill="none" stroke="#c8c8c8" stroke-width="1.1"/>
<text x="611.85" y="377.5" font-size="6.8" font-weight="normal" fill="#262626" text-anchor="middle" font-family="'Liberation Sans', Arial, sans-serif" textLength="71" lengthAdjust="spacingAndGlyphs" stroke="#262626" stroke-width="0.1">Zeta Potential Distribution</text>
<line x1="498.3" y1="457.6" x2="757.3" y2="457.6" stroke="#6a6a6a" stroke-width="1.1" stroke-dasharray="1.1 2.3"/>
<line x1="498.3" y1="424.9" x2="757.3" y2="424.9" stroke="#6a6a6a" stroke-width="1.1" stroke-dasharray="1.1 2.3"/>
<line x1="498.3" y1="392.2" x2="757.3" y2="392.2" stroke="#6a6a6a" stroke-width="1.1" stroke-dasharray="1.1 2.3"/>
<line x1="562.8" y1="394.2" x2="562.8" y2="490.3" stroke="#6a6a6a" stroke-width="1.1" stroke-dasharray="1.1 2.2"/>
<line x1="627.8" y1="394.2" x2="627.8" y2="490.3" stroke="#6a6a6a" stroke-width="1.1" stroke-dasharray="1.1 2.2"/>
<line x1="692.3" y1="394.2" x2="692.3" y2="490.3" stroke="#6a6a6a" stroke-width="1.1" stroke-dasharray="1.1 2.2"/>
<line x1="756.8" y1="394.2" x2="756.8" y2="490.3" stroke="#6a6a6a" stroke-width="1.1" stroke-dasharray="1.1 2.2"/>
<line x1="497.3" y1="392.2" x2="497.3" y2="490.8" stroke="#b8b8b8" stroke-width="1.1"/>
<line x1="497.3" y1="490.3" x2="756.8" y2="490.3" stroke="#b4b4b4" stroke-width="1.0" stroke-dasharray="1.6 1.4"/>
<rect x="497.1" y="489.55" width="1.5" height="1.5" fill="#777"/>
<rect x="497.1" y="473.25" width="1.4" height="1.4" fill="#666"/>
<rect x="497.1" y="440.55" width="1.4" height="1.4" fill="#666"/>
<rect x="497.1" y="407.85" width="1.4" height="1.4" fill="#666"/>
<rect x="529.4" y="489.4" width="1.8" height="1.8" fill="#666"/>
<rect x="594.4" y="489.4" width="1.8" height="1.8" fill="#666"/>
<rect x="659.15" y="489.4" width="1.8" height="1.8" fill="#666"/>
<rect x="723.65" y="489.4" width="1.8" height="1.8" fill="#666"/>
<text x="495.3" y="493.5" font-size="6.6" font-weight="normal" fill="#262626" text-anchor="end" font-family="'Liberation Sans', Arial, sans-serif" stroke="#262626" stroke-width="0.13">0</text>
<text x="495.3" y="460.4" font-size="6.6" font-weight="normal" fill="#262626" text-anchor="end" font-family="'Liberation Sans', Arial, sans-serif" textLength="21" lengthAdjust="spacingAndGlyphs" stroke="#262626" stroke-width="0.13">100000</text>
<text x="495.3" y="427.7" font-size="6.6" font-weight="normal" fill="#262626" text-anchor="end" font-family="'Liberation Sans', Arial, sans-serif" textLength="21" lengthAdjust="spacingAndGlyphs" stroke="#262626" stroke-width="0.13">200000</text>
<text x="495.3" y="395" font-size="6.6" font-weight="normal" fill="#262626" text-anchor="end" font-family="'Liberation Sans', Arial, sans-serif" textLength="21" lengthAdjust="spacingAndGlyphs" stroke="#262626" stroke-width="0.13">300000</text>
<text x="562.5" y="500.9" font-size="6.6" font-weight="normal" fill="#262626" text-anchor="middle" font-family="'Liberation Sans', Arial, sans-serif" textLength="12.7" lengthAdjust="spacingAndGlyphs" stroke="#262626" stroke-width="0.12">-100</text>
<text x="627.8" y="500.9" font-size="6.6" font-weight="normal" fill="#262626" text-anchor="middle" font-family="'Liberation Sans', Arial, sans-serif" textLength="3.9" lengthAdjust="spacingAndGlyphs" stroke="#262626" stroke-width="0.12">0</text>
<text x="692.3" y="500.9" font-size="6.6" font-weight="normal" fill="#262626" text-anchor="middle" font-family="'Liberation Sans', Arial, sans-serif" textLength="11.2" lengthAdjust="spacingAndGlyphs" stroke="#262626" stroke-width="0.12">100</text>
<text x="756.8" y="500.9" font-size="6.6" font-weight="normal" fill="#262626" text-anchor="middle" font-family="'Liberation Sans', Arial, sans-serif" textLength="11.6" lengthAdjust="spacingAndGlyphs" stroke="#262626" stroke-width="0.12">200</text>
<text x="627.55" y="510" font-size="6.8" font-weight="normal" fill="#262626" text-anchor="middle" font-family="'Liberation Sans', Arial, sans-serif" textLength="80" lengthAdjust="spacingAndGlyphs" stroke="#262626" stroke-width="0.1">Apparent Zeta Potential (mV)</text>
<text x="0" y="0" font-size="6.3" font-weight="normal" stroke="#262626" stroke-width="0.13" fill="#262626" text-anchor="middle" font-family="'Liberation Sans', Arial, sans-serif" textLength="35" lengthAdjust="spacingAndGlyphs" transform="translate(470.6 441.25) rotate(-90)">Total Counts</text>
<path d="M532.2,491 L593.7,491.2 C594.52,489.6 597.3,486.1 598.6,481.6 C599.9,477.1 600.53,471.62 601.5,464.2 C602.47,456.78 603.5,445.5 604.4,437.1 C605.3,428.7 606.2,418.8 606.9,413.8 C607.6,408.8 608.09,409.11 608.6,407.1 C609.08,409.11 609.62,408.48 610.2,413.8 C610.78,419.12 611.47,430.6 612.1,439 C612.73,447.4 613.18,457.75 614,464.2 C614.82,470.65 615.87,473.67 617,477.7 C618.13,481.73 619.68,486.15 620.8,488.4 C621.92,490.65 623.22,490.73 623.7,491.2 L722.9,491" fill="none" stroke="#ec8062" stroke-width="1.15" stroke-linejoin="round" stroke-linecap="butt"/>
</g>
</svg>
</body></html>
